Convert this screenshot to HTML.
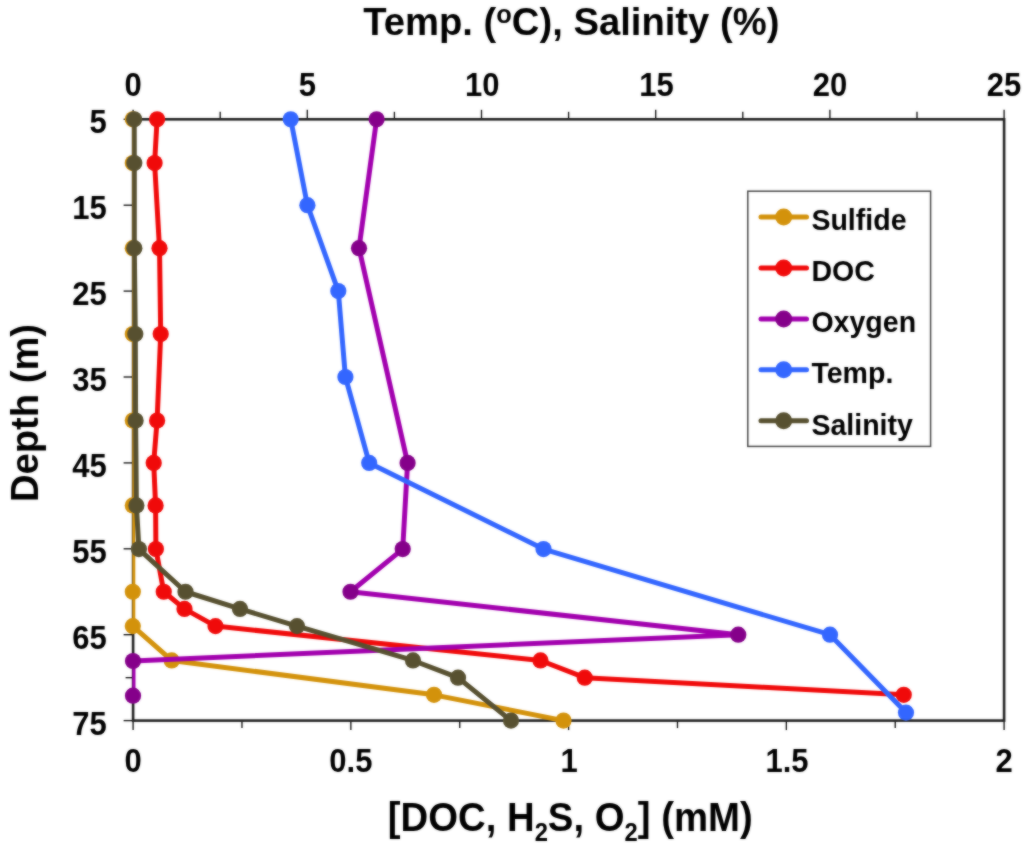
<!DOCTYPE html>
<html lang="en"><head><meta charset="utf-8"><title>Depth profile</title>
<style>
html,body{margin:0;padding:0;background:#fff;}
body{width:1024px;height:847px;overflow:hidden;}
svg{display:block;}
svg text{font-family:"Liberation Sans",Arial,Helvetica,sans-serif;font-weight:bold;fill:#000;}
.tk{font-size:30px;}
.ttl{font-size:36px;}
.lg{font-size:28px;}
</style></head><body>
<svg width="1024" height="847" viewBox="0 0 1024 847">
<defs><filter id="soft" x="0" y="0" width="1024" height="847" filterUnits="userSpaceOnUse" color-interpolation-filters="sRGB"><feGaussianBlur stdDeviation="0.8" result="b"/><feComposite in="b" in2="SourceGraphic" operator="arithmetic" k1="0" k2="0.55" k3="0.45" k4="0"/></filter></defs>
<g filter="url(#soft)">
<rect x="-10" y="-10" width="1044" height="867" fill="#ffffff"/>

<g stroke="#111111" stroke-width="1.35" fill="none">
<line x1="133.10" y1="119.30" x2="133.10" y2="109.80"/>
<line x1="220.20" y1="119.30" x2="220.20" y2="111.80"/>
<line x1="307.30" y1="119.30" x2="307.30" y2="109.80"/>
<line x1="394.40" y1="119.30" x2="394.40" y2="111.80"/>
<line x1="481.50" y1="119.30" x2="481.50" y2="109.80"/>
<line x1="568.60" y1="119.30" x2="568.60" y2="111.80"/>
<line x1="655.70" y1="119.30" x2="655.70" y2="109.80"/>
<line x1="742.80" y1="119.30" x2="742.80" y2="111.80"/>
<line x1="829.90" y1="119.30" x2="829.90" y2="109.80"/>
<line x1="917.00" y1="119.30" x2="917.00" y2="111.80"/>
<line x1="1004.10" y1="119.30" x2="1004.10" y2="109.80"/>
<line x1="133.10" y1="720.60" x2="133.10" y2="730.10"/>
<line x1="241.97" y1="720.60" x2="241.97" y2="728.10"/>
<line x1="350.85" y1="720.60" x2="350.85" y2="730.10"/>
<line x1="459.73" y1="720.60" x2="459.73" y2="728.10"/>
<line x1="568.60" y1="720.60" x2="568.60" y2="730.10"/>
<line x1="677.48" y1="720.60" x2="677.48" y2="728.10"/>
<line x1="786.35" y1="720.60" x2="786.35" y2="730.10"/>
<line x1="895.23" y1="720.60" x2="895.23" y2="728.10"/>
<line x1="1004.10" y1="720.60" x2="1004.10" y2="730.10"/>
<line x1="133.10" y1="119.30" x2="123.60" y2="119.30"/>
<line x1="133.10" y1="162.25" x2="125.60" y2="162.25"/>
<line x1="133.10" y1="205.20" x2="123.60" y2="205.20"/>
<line x1="133.10" y1="248.15" x2="125.60" y2="248.15"/>
<line x1="133.10" y1="291.10" x2="123.60" y2="291.10"/>
<line x1="133.10" y1="334.05" x2="125.60" y2="334.05"/>
<line x1="133.10" y1="377.00" x2="123.60" y2="377.00"/>
<line x1="133.10" y1="419.95" x2="125.60" y2="419.95"/>
<line x1="133.10" y1="462.90" x2="123.60" y2="462.90"/>
<line x1="133.10" y1="505.85" x2="125.60" y2="505.85"/>
<line x1="133.10" y1="548.80" x2="123.60" y2="548.80"/>
<line x1="133.10" y1="591.75" x2="125.60" y2="591.75"/>
<line x1="133.10" y1="634.70" x2="123.60" y2="634.70"/>
<line x1="133.10" y1="677.65" x2="125.60" y2="677.65"/>
<line x1="133.10" y1="720.60" x2="123.60" y2="720.60"/>
</g>
<rect x="133.10" y="119.30" width="871.00" height="601.30" fill="none" stroke="#202020" stroke-width="2.6"/>
<g class="tk" text-anchor="middle">
<text transform="translate(133.10 95.8) scale(1.035 1.10)">0</text>
<text transform="translate(307.30 95.8) scale(1.035 1.10)">5</text>
<text transform="translate(482.30 95.8) scale(1.035 1.10)">10</text>
<text transform="translate(656.50 95.8) scale(1.035 1.10)">15</text>
<text transform="translate(829.90 95.8) scale(1.035 1.10)">20</text>
<text transform="translate(1004.10 95.8) scale(1.035 1.10)">25</text>
<text transform="translate(133.10 772.3) scale(1.035 1.10)">0</text>
<text transform="translate(350.85 772.3) scale(1.035 1.10)">0.5</text>
<text transform="translate(569.20 772.3) scale(1.035 1.10)">1</text>
<text transform="translate(786.95 772.3) scale(1.035 1.10)">1.5</text>
<text transform="translate(1004.10 772.3) scale(1.035 1.10)">2</text>
</g>
<g class="tk" text-anchor="end">
<text transform="translate(106.7 133.20) scale(1.035 1.10)">5</text>
<text transform="translate(106.7 219.10) scale(1.035 1.10)">15</text>
<text transform="translate(106.7 305.00) scale(1.035 1.10)">25</text>
<text transform="translate(106.7 390.90) scale(1.035 1.10)">35</text>
<text transform="translate(106.7 476.80) scale(1.035 1.10)">45</text>
<text transform="translate(106.7 562.70) scale(1.035 1.10)">55</text>
<text transform="translate(106.7 648.60) scale(1.035 1.10)">65</text>
<text transform="translate(106.7 734.50) scale(1.035 1.10)">75</text>
</g>
<text class="ttl" transform="translate(571.3 34.7) scale(1.062 1.072)" text-anchor="middle">Temp. (<tspan font-size="24" dy="-11">o</tspan><tspan dy="11">C), Salinity (%)</tspan></text>
<text class="ttl" transform="translate(570.2 830.8) scale(1.065 1.116)" text-anchor="middle">[DOC, H<tspan font-size="22.3" dy="9">2</tspan><tspan dy="-9">S, O</tspan><tspan font-size="22.3" dy="9">2</tspan><tspan dy="-9">] (mM)</tspan></text>
<text class="ttl" transform="translate(38.4 413) rotate(-90) scale(1.061 1.095)" text-anchor="middle">Depth (m)</text>
<defs><clipPath id="plotclip"><rect x="132.30" y="118.00" width="873.00" height="603.90"/></clipPath></defs>
<g>
<polyline clip-path="url(#plotclip)" fill="none" stroke="#D3920B" stroke-width="5" stroke-linejoin="round" stroke-linecap="round" points="132.80,119.30 132.80,163.05 132.80,248.15 132.80,334.05 132.80,420.55 132.80,505.45 132.80,591.75 132.80,626.11 171.70,660.47 434.00,694.83 563.50,720.60"/>
<g fill="#D3920B"><circle cx="132.80" cy="119.30" r="8.1"/><circle cx="132.80" cy="163.05" r="8.1"/><circle cx="132.80" cy="248.15" r="8.1"/><circle cx="132.80" cy="334.05" r="8.1"/><circle cx="132.80" cy="420.55" r="8.1"/><circle cx="132.80" cy="505.45" r="8.1"/><circle cx="132.80" cy="591.75" r="8.1"/><circle cx="132.80" cy="626.11" r="8.1"/><circle cx="171.70" cy="660.47" r="8.1"/><circle cx="434.00" cy="694.83" r="8.1"/><circle cx="563.50" cy="720.60" r="8.1"/></g>
</g>
<g>
<polyline clip-path="url(#plotclip)" fill="none" stroke="#F00A0A" stroke-width="5" stroke-linejoin="round" stroke-linecap="round" points="157.10,119.30 154.60,163.05 159.50,248.15 160.70,334.05 157.10,420.55 153.70,462.90 155.60,505.45 155.90,549.10 163.75,591.75 184.50,608.93 215.50,626.11 540.50,660.47 584.75,677.65 903.75,694.83"/>
<g fill="#F00A0A"><circle cx="157.10" cy="119.30" r="8.1"/><circle cx="154.60" cy="163.05" r="8.1"/><circle cx="159.50" cy="248.15" r="8.1"/><circle cx="160.70" cy="334.05" r="8.1"/><circle cx="157.10" cy="420.55" r="8.1"/><circle cx="153.70" cy="462.90" r="8.1"/><circle cx="155.60" cy="505.45" r="8.1"/><circle cx="155.90" cy="549.10" r="8.1"/><circle cx="163.75" cy="591.75" r="8.1"/><circle cx="184.50" cy="608.93" r="8.1"/><circle cx="215.50" cy="626.11" r="8.1"/><circle cx="540.50" cy="660.47" r="8.1"/><circle cx="584.75" cy="677.65" r="8.1"/><circle cx="903.75" cy="694.83" r="8.1"/></g>
</g>
<g>
<polyline clip-path="url(#plotclip)" fill="none" stroke="#A200AE" stroke-width="5" stroke-linejoin="round" stroke-linecap="round" points="376.60,119.30 359.00,248.15 407.60,462.90 402.70,549.10 350.50,591.75 738.25,634.70 133.00,660.99 133.00,695.69"/>
<g fill="#85008A"><circle cx="376.60" cy="119.30" r="8.1"/><circle cx="359.00" cy="248.15" r="8.1"/><circle cx="407.60" cy="462.90" r="8.1"/><circle cx="402.70" cy="549.10" r="8.1"/><circle cx="350.50" cy="591.75" r="8.1"/><circle cx="738.25" cy="634.70" r="8.1"/><circle cx="133.00" cy="660.99" r="8.1"/><circle cx="133.00" cy="695.69" r="8.1"/></g>
</g>
<g>
<polyline clip-path="url(#plotclip)" fill="none" stroke="#3366FF" stroke-width="5" stroke-linejoin="round" stroke-linecap="round" points="290.70,119.30 307.40,205.20 338.30,291.10 345.40,377.00 369.20,462.90 543.50,549.10 830.00,634.70 906.00,712.61"/>
<g fill="#3366FF"><circle cx="290.70" cy="119.30" r="8.1"/><circle cx="307.40" cy="205.20" r="8.1"/><circle cx="338.30" cy="291.10" r="8.1"/><circle cx="345.40" cy="377.00" r="8.1"/><circle cx="369.20" cy="462.90" r="8.1"/><circle cx="543.50" cy="549.10" r="8.1"/><circle cx="830.00" cy="634.70" r="8.1"/><circle cx="906.00" cy="712.61" r="8.1"/></g>
</g>
<g>
<polyline clip-path="url(#plotclip)" fill="none" stroke="#575030" stroke-width="5" stroke-linejoin="round" stroke-linecap="round" points="134.20,119.30 134.30,163.05 134.30,248.15 135.30,334.05 135.60,420.55 136.40,505.45 138.90,549.10 185.50,591.75 240.00,608.93 297.00,626.11 413.00,660.47 458.00,677.65 511.00,720.60"/>
<g fill="#575030"><circle cx="134.20" cy="119.30" r="8.1"/><circle cx="134.30" cy="163.05" r="8.1"/><circle cx="134.30" cy="248.15" r="8.1"/><circle cx="135.30" cy="334.05" r="8.1"/><circle cx="135.60" cy="420.55" r="8.1"/><circle cx="136.40" cy="505.45" r="8.1"/><circle cx="138.90" cy="549.10" r="8.1"/><circle cx="185.50" cy="591.75" r="8.1"/><circle cx="240.00" cy="608.93" r="8.1"/><circle cx="297.00" cy="626.11" r="8.1"/><circle cx="413.00" cy="660.47" r="8.1"/><circle cx="458.00" cy="677.65" r="8.1"/><circle cx="511.00" cy="720.60" r="8.1"/></g>
</g>
<rect x="747.8" y="191.2" width="182.8" height="255.2" fill="#ffffff" stroke="#484848" stroke-width="1.5"/>
<line x1="761" y1="217.00" x2="806.5" y2="217.00" stroke="#D3920B" stroke-width="5" stroke-linecap="round"/>
<circle cx="783.7" cy="217.00" r="8.5" fill="#D3920B"/>
<text class="lg" transform="translate(811.4 230.00) scale(1.02 1.07)">Sulfide</text>
<line x1="761" y1="267.95" x2="806.5" y2="267.95" stroke="#F00A0A" stroke-width="5" stroke-linecap="round"/>
<circle cx="783.7" cy="267.95" r="8.5" fill="#F00A0A"/>
<text class="lg" transform="translate(811.4 281.15) scale(1.02 1.07)">DOC</text>
<line x1="761" y1="318.90" x2="806.5" y2="318.90" stroke="#A200AE" stroke-width="5" stroke-linecap="round"/>
<circle cx="783.7" cy="318.90" r="8.5" fill="#85008A"/>
<text class="lg" transform="translate(811.4 332.30) scale(1.02 1.07)">Oxygen</text>
<line x1="761" y1="369.85" x2="806.5" y2="369.85" stroke="#3366FF" stroke-width="5" stroke-linecap="round"/>
<circle cx="783.7" cy="369.85" r="8.5" fill="#3366FF"/>
<text class="lg" transform="translate(811.4 383.45) scale(1.02 1.07)">Temp.</text>
<line x1="761" y1="420.80" x2="806.5" y2="420.80" stroke="#575030" stroke-width="5" stroke-linecap="round"/>
<circle cx="783.7" cy="420.80" r="8.5" fill="#575030"/>
<text class="lg" transform="translate(811.4 434.60) scale(1.02 1.07)">Salinity</text>
</g>
</svg>
</body></html>
